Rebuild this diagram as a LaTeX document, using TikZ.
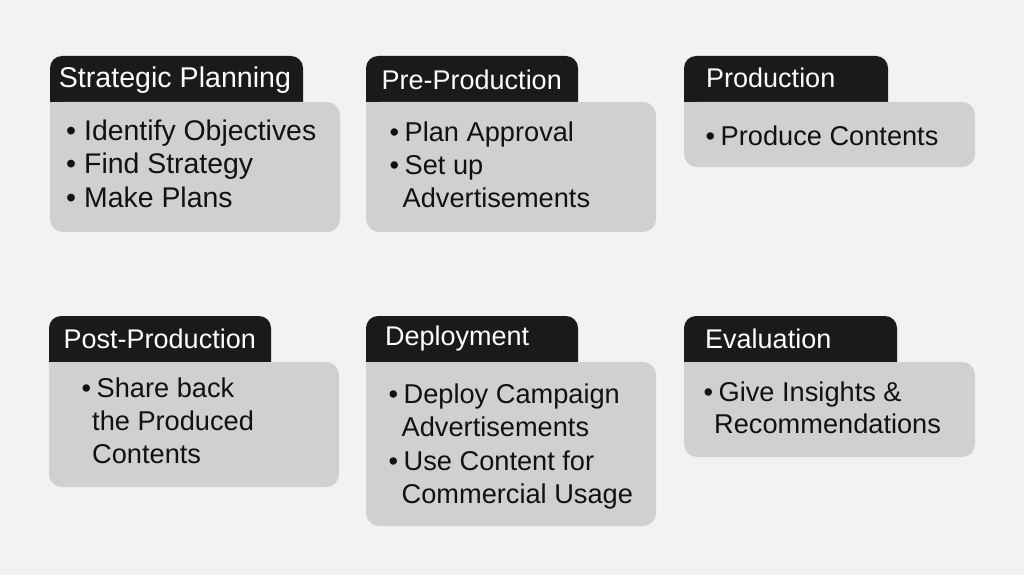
\documentclass[tikz,border=0pt]{standalone}
\usepackage{fontspec}
\setmainfont{Liberation Sans}
\definecolor{bgc}{HTML}{F2F2F2}
\definecolor{hdc}{HTML}{1A1A1A}
\definecolor{bdc}{HTML}{D0D0D0}
\definecolor{txc}{HTML}{111111}
\newcommand\bul{\makebox[15pt][l]{•}}
\newcommand\bulw{\makebox[18pt][l]{•}}
\tikzset{
  hdr/.style={fill=hdc, rounded corners=12pt},
  bdy/.style={fill=bdc, rounded corners=13pt},
  bdysq/.style={fill=bdc},
  htxt/.style={anchor=base west, inner sep=0pt, text=white, font=\fontsize{27}{33}\selectfont},
  btxt/.style={anchor=base west, inner sep=0pt, text=txc, font=\fontsize{27.2}{33.3}\selectfont},
  bigh/.style={font=\fontsize{28.6}{33}\selectfont},
  bigb/.style={font=\fontsize{28.4}{33.5}\selectfont},
  tightb/.style={font=\fontsize{27.2}{31.5}\selectfont},
}
\begin{document}
\begin{tikzpicture}[x=1pt,y=-1pt]
\fill[bgc] (0,0) rectangle (1024,575);
\useasboundingbox (0,0) rectangle (1024,575);

% ---- Box 1: Strategic Planning
\fill[hdr] (50,56) rectangle (303,120);
\fill[bdy] (50,102) rectangle (340,232);
\fill[bdysq] (50,102) rectangle (70,122);
\node[htxt, bigh] (h1) at (58.7,87.5) {Strategic Planning};
\node[btxt, bigb] (b1) at (66,140) {\begin{tabular}[t]{@{}l@{}}\bulw Identify Objectives\\ \bulw Find Strategy\\ \bulw Make Plans\end{tabular}};

% ---- Box 2: Pre-Production
\fill[hdr] (366,56) rectangle (578,120);
\fill[bdy] (366,102) rectangle (656,232);
\fill[bdysq] (366,102) rectangle (386,122);
\node[htxt] (h2) at (381.5,90) {Pre-Production};
\node[btxt] (b2) at (389.5,141) {\begin{tabular}[t]{@{}l@{}}\bul Plan Approval\\ \bul Set up\\ \hspace*{13pt}Advertisements\end{tabular}};

% ---- Box 3: Production
\fill[hdr] (684,56) rectangle (888,120);
\fill[bdy] (684,102) rectangle (975,167);
\fill[bdysq] (684,102) rectangle (704,122);
\node[htxt] (h3) at (706,88) {Production};
\node[btxt] (b3) at (705.5,145) {\begin{tabular}[t]{@{}l@{}}\bul Produce Contents\end{tabular}};

% ---- Box 4: Post-Production
\fill[hdr] (49,316) rectangle (271,380);
\fill[bdy] (49,362) rectangle (339,487);
\fill[bdysq] (49,362) rectangle (69,382);
\node[htxt] (h4) at (63.5,348) {Post-Production};
\node[btxt] (b4) at (81.5,397) {\begin{tabular}[t]{@{}l@{}}\bul Share back\\ \hspace*{10.5pt}the Produced\\ \hspace*{10.5pt}Contents\end{tabular}};

% ---- Box 5: Deployment
\fill[hdr] (366,316) rectangle (578,380);
\fill[bdy] (366,362) rectangle (656,526);
\fill[bdysq] (366,362) rectangle (386,382);
\node[htxt] (h5) at (385,345) {Deployment};
\node[btxt] (b5) at (388.5,403.5) {\begin{tabular}[t]{@{}l@{}}\bul Deploy Campaign\\ \hspace*{13pt}Advertisements\\ \bul Use Content for\\ \hspace*{13pt}Commercial Usage\end{tabular}};

% ---- Box 6: Evaluation
\fill[hdr] (684,316) rectangle (897,380);
\fill[bdy] (684,362) rectangle (975,457);
\fill[bdysq] (684,362) rectangle (704,382);
\node[htxt] (h6) at (705,348) {Evaluation};
\node[btxt, tightb] (b6) at (703.5,401.5) {\begin{tabular}[t]{@{}l@{}}\bul Give Insights \&\\ \hspace*{10.5pt}Recommendations\end{tabular}};
\end{tikzpicture}
\end{document}
